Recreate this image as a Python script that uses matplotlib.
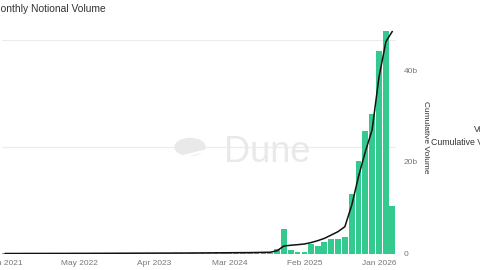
import pandas as pd
import numpy as np
import matplotlib
matplotlib.use("Agg")
import matplotlib.pyplot as plt
import matplotlib.dates as mdates
from matplotlib.patches import Circle
from matplotlib.ticker import FuncFormatter

# monthly buckets, Jun 2021 .. Mar 2026
months = pd.date_range("2021-06-01", "2026-03-01", freq="MS")

# monthly notional volume, in billions
volume = [0.001, 0.001, 0.002, 0.002, 0.002, 0.003, 0.003, 0.003, 0.004, 0.004, 0.004, 0.005,
          0.005, 0.005, 0.006, 0.006, 0.006, 0.007, 0.007, 0.008, 0.008, 0.008, 0.009, 0.009,
          0.010, 0.010, 0.011, 0.011, 0.012, 0.012, 0.013, 0.014, 0.015, 0.016, 0.018, 0.020,
          0.022, 0.025, 0.028, 0.030,
          0.19, 1.17, 0.15, 0.08, 0.08, 0.44, 0.34, 0.56, 0.69, 0.66, 0.78,
          2.78, 4.33, 5.74, 6.52, 9.50, 10.40, 2.22]

# cumulative volume, in billions
cumulative = [0.00, 0.00, 0.00, 0.01, 0.01, 0.01, 0.01, 0.02, 0.02, 0.02, 0.03, 0.03,
              0.03, 0.04, 0.04, 0.05, 0.05, 0.06, 0.06, 0.07, 0.07, 0.08, 0.08, 0.09,
              0.09, 0.10, 0.10, 0.11, 0.12, 0.13, 0.14, 0.15, 0.16, 0.17, 0.18, 0.19,
              0.20, 0.22, 0.25, 0.28,
              0.60, 1.64, 1.80, 1.93, 2.08, 2.37, 2.80, 3.30, 4.04, 4.77, 5.86,
              10.6, 16.8, 22.3, 27.0, 38.6, 46.3, 48.5]

tick_dates = pd.to_datetime(["2021-06-01", "2022-05-01", "2023-04-01",
                             "2024-03-01", "2025-02-01", "2026-01-01"])
right_ticks = [0, 20, 40]

green = "#34c98e"
grey = "#777777"

fig = plt.figure(figsize=(4.8, 2.7), dpi=100)
ax = fig.add_axes([0.0035, 0.0611, 0.8205, 0.8278])
ax2 = ax.twinx()

ax.bar(months, volume, width=26, color=green, zorder=2)
ax2.plot(months, cumulative, color="#111111", lw=1.1, zorder=3)

ax.set_xlim(pd.Timestamp("2021-05-16"), pd.Timestamp("2026-03-16"))
ax.set_ylim(0, 10.47)
ax2.set_ylim(0, 48.85)

ax.set_yticks([0, 5, 10])
ax.tick_params(axis="y", left=False, labelleft=False)
ax.grid(axis="y", color="#ececec", lw=0.8, zorder=0)
ax.set_axisbelow(True)

ax.set_xticks(tick_dates)
ax.xaxis.set_major_formatter(mdates.DateFormatter("%b %Y"))
ax.tick_params(axis="x", length=0, pad=5, labelsize=6, labelcolor=grey)
for lab in ax.get_xticklabels():
    lab.set_family("Liberation Sans")

ax2.set_yticks(right_ticks)
ax2.yaxis.set_major_formatter(FuncFormatter(lambda v, p: "0" if v == 0 else "%db" % v))
ax2.tick_params(axis="y", length=0, pad=6, labelsize=6, labelcolor=grey)
for lab in ax2.get_yticklabels():
    lab.set_family("Liberation Sans")
ax2.set_ylabel("Cumulative Volume", rotation=270, fontsize=6, color="#333333",
               family="Liberation Sans", labelpad=10)
ax2.yaxis.set_label_coords(1.085, 0.52)

for a in (ax, ax2):
    for s in a.spines.values():
        s.set_visible(False)

fig.text(-0.016, 0.967, "Monthly Notional Volume", fontsize=7.4, color="#333333",
         family="Liberation Sans", va="center", ha="left")

# legend, cut off on the right
fig.text(0.9875, 0.519, "Volume", fontsize=6.3, color="#333333",
         family="Liberation Sans", va="center", ha="left")
fig.text(0.898, 0.472, "Cumulative Volume", fontsize=6.3, color="#333333",
         family="Liberation Sans", va="center", ha="left")

# watermark
fig.patches.append(Circle((190 / 480, 1 - 147 / 270), 15 / 480, transform=fig.transFigure,
                          color="#e9e9e9", zorder=0))
fig.lines.append(plt.Line2D([176 / 480, 205 / 480], [1 - 158 / 270, 1 - 151 / 270],
                            transform=fig.transFigure, color="white", lw=2, zorder=1))
fig.text(224 / 480, 1 - 162 / 270, "Dune", fontsize=26, color="#e9e9e9",
         family="Liberation Sans", va="baseline", ha="left", zorder=0)

fig.savefig("out.png", dpi=100)
